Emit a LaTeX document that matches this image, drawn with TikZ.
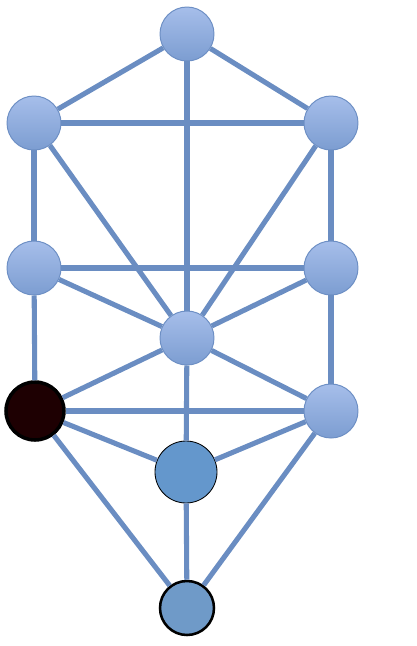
\documentclass[tikz,border=0pt]{standalone}
\usepackage{amsmath,amssymb}
\definecolor{pathblue}{HTML}{6A8DC2}
\definecolor{rimblue}{HTML}{6D8FC4}
\definecolor{lightsphere}{HTML}{A6BEEA}
\definecolor{darksphere}{HTML}{7C9DD1}
\definecolor{hodfill}{HTML}{1E0002}
\definecolor{yesodfill}{HTML}{6497CC}
\definecolor{malkuthfill}{HTML}{6F9AC8}
\begin{document}
\begin{tikzpicture}[x=0.025cm,y=-0.025cm,
  sphere/.style={circle,inner sep=0pt,minimum size=54*0.025cm,draw=rimblue,line width=0.7pt,top color=lightsphere,bottom color=darksphere},
  path/.style={pathblue,line width=3.6pt}]
                        \useasboundingbox (0,0) rectangle (416,646);
                        \node [sphere] (keter) at (187,34) {};
                        \node [sphere] (binah) at (34,123) {};
                        \node [sphere] (chokhmah) at (331,123) {};
                        \node [sphere] (gevurah) at (34,268) {};
                        \node [sphere] (chesed) at (331,268) {};
                        \node [sphere] (tiferet) at (187,338) {};
                        \node [circle,inner sep=0pt,minimum size=58*0.025cm,fill=hodfill,draw=black,line width=2.5pt] (hod) at (35,411) {};
                        \node [sphere] (netzach) at (331,411) {};
                        \node [circle,inner sep=0pt,minimum size=62*0.025cm,fill=yesodfill,draw=black,line width=0.6pt] (yesod) at (186,472) {};
                        \node [circle,inner sep=0pt,minimum size=54*0.025cm,fill=malkuthfill,draw=black,line width=1.8pt] (malkuth) at (187,608) {};
                        \draw [path] (keter)--(binah);
                        \draw [path] (keter)--(chokhmah);
                        \draw [path] (keter)--(tiferet);
                        \draw [path] (binah)--(chokhmah);
                        \draw [path] (binah)--(gevurah);
                        \draw [path] (chokhmah)--(chesed);
                        \draw [path] (binah)--(tiferet);
                        \draw [path] (chokhmah)--(tiferet);
                        \draw [path] (gevurah)--(chesed);
                        \draw [path] (gevurah)--(tiferet);
                        \draw [path] (chesed)--(tiferet);
                        \draw [path] (gevurah)--(hod);
                        \draw [path] (chesed)--(netzach);
                        \draw [path] (hod)--(tiferet);
                        \draw [path] (netzach)--(tiferet);
                        \draw [path] (hod)--(netzach);
                        \draw [path] (hod)--(yesod);
                        \draw [path] (netzach)--(yesod);
                        \draw [path] (tiferet)--(yesod);
                        \draw [path] (hod)--(malkuth);
                        \draw [path] (netzach)--(malkuth);
                        \draw [path] (yesod)--(malkuth);
                    \end{tikzpicture}
\end{document}
